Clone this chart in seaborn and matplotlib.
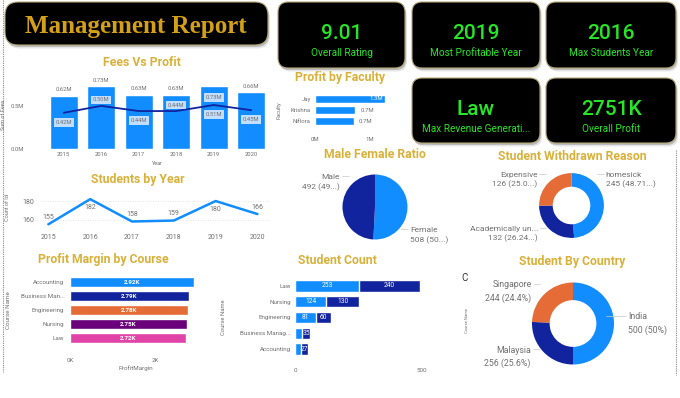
import matplotlib
matplotlib.use("Agg")
import matplotlib.pyplot as plt
from matplotlib.patches import FancyBboxPatch
import numpy as np
import pandas as pd
import seaborn as sns

W, H = 680, 398

years = ["2015", "2016", "2017", "2018", "2019", "2020"]
fees = [0.62, 0.73, 0.63, 0.63, 0.73, 0.66]
profit = [0.42, 0.50, 0.44, 0.44, 0.51, 0.45]
students = [155, 182, 158, 159, 180, 166]

faculties = ["Jay", "Krishna", "Niflora"]
faculty_profit = [1.27, 0.73, 0.70]
faculty_labels = ["1.3M", "0.7M", "0.7M"]

margin_courses = ["Accounting", "Business Man...", "Engineering", "Nursing", "Law"]
profit_margin = [2.92, 2.79, 2.78, 2.75, 2.72]

count_courses = ["Law", "Nursing", "Engineering", "Business Manag...", "Accounting"]
count_light = [253, 124, 81, 26, 24]
count_dark = [240, 130, 60, 35, 27]

genders = ["Female", "Male"]
gender_count = [508, 492]
gender_labels = ["508 (50...)", "492 (49...)"]

reasons = ["homesick", "Academically un...", "Expensive"]
reason_count = [245, 132, 126]
reason_labels = ["245 (48.71...)", "132 (26.24...)", "126 (25.0...)"]

countries = ["India", "Malaysia", "Singapore"]
country_count = [500, 256, 244]
country_labels = ["500 (50%)", "256 (25.6%)", "244 (24.4%)"]

kpi_values = ["9.01", "2019", "2016", "Law", "2751K"]
kpi_names = ["Overall Rating", "Most Profitable Year", "Max Students Year",
             "Max Revenue Generati...", "Overall Profit"]

LIGHT, DARK, ORANGE = "#118dff", "#12239e", "#e66c37"
PURPLE, PINK = "#6b007b", "#e044a7"
GOLD, TITLE_GOLD, GREEN, GRAY = "#d9b13a", "#d4a017", "#27e627", "#707070"

sns.set_theme(style="white")
plt.rcParams["font.family"] = ["Roboto", "DejaVu Sans"]

fig = plt.figure(figsize=(6.8, 3.98), dpi=100)
fig.patch.set_facecolor("white")
bg = fig.add_axes([0, 0, 1, 1])
bg.set_xlim(0, W)
bg.set_ylim(H, 0)
bg.axis("off")


def add_axes(x0, y0, x1, y1):
    ax = fig.add_axes([x0 / W, 1 - y1 / H, (x1 - x0) / W, (y1 - y0) / H])
    ax.set_facecolor("none")
    return ax


def clean(ax, size=4.5, pad=2):
    sns.despine(ax=ax, left=True, bottom=True)
    ax.tick_params(length=0, labelsize=size, colors=GRAY, pad=pad)


def card(x0, y0, x1, y1, r=10):
    style = f"round,pad=0,rounding_size={r}"
    for dx, dy, a in [(2, 3.5, 0.10), (1, 2, 0.18)]:
        bg.add_patch(FancyBboxPatch((x0 + dx, y0 + dy), x1 - x0, y1 - y0, boxstyle=style,
                                    fc="black", ec="none", alpha=a))
    bg.add_patch(FancyBboxPatch((x0, y0), x1 - x0, y1 - y0, boxstyle=style,
                                fc="black", ec="#b5a676", lw=0.8))


def title(x, y, text):
    bg.text(x, y + 4.5, text, ha="center", va="baseline", color=GOLD,
            fontsize=8.8, fontweight="bold")


# page borders
bg.plot([3, 3], [0, 372], ls=(0, (1, 1)), color="#888888", lw=0.8)
bg.plot([676, 676], [150, 375], ls=(0, (1, 1)), color="#888888", lw=0.8)

# header and KPI cards
card(5, 2, 268, 45, r=13)
bg.text(136, 33, "Management Report", ha="center", va="baseline", color=TITLE_GOLD,
        fontsize=18, fontweight="bold", family=["Liberation Serif", "DejaVu Serif"])

kpi_boxes = [(278, 2, 405, 68), (412, 2, 540, 68), (546, 2, 676, 68),
             (412, 78, 540, 143), (546, 78, 676, 143)]
for (x0, y0, x1, y1), val, name in zip(kpi_boxes, kpi_values, kpi_names):
    card(x0, y0, x1, y1)
    cx, cy = (x0 + x1) / 2, (y0 + y1) / 2
    bg.text(cx, cy + 4.3, val, ha="center", va="baseline", color=GREEN, fontsize=15,
            fontweight="medium")
    bg.text(cx, cy + 21.5, name, ha="center", va="baseline", color=GREEN, fontsize=7.2)

# Fees Vs Profit
title(142, 62, "Fees Vs Profit")
ax = add_axes(45, 80, 270, 149)
fees_df = pd.DataFrame({"Year": years, "Fees": fees, "Profit": profit})
sns.barplot(data=fees_df, x="Year", y="Fees", color=LIGHT, saturation=1, width=0.75, ax=ax)
sns.lineplot(x=np.arange(len(years)), y=profit, color=DARK, lw=1.3, ax=ax)
ax.set_ylim(0, 0.8)
ax.set_xlim(-0.5, len(years) - 0.5)
ax.set_yticks([0, 0.5], ["0.0M", "0.5M"])
clean(ax, 4.2)
ax.tick_params(axis="y", pad=15)
ax.set_xlabel("Year", fontsize=4, color=GRAY, labelpad=3)
ax.set_ylabel("Sum of Fees", fontsize=4, color=GRAY)
ax.yaxis.set_label_coords(-0.175, 0.5)
box = dict(boxstyle="square,pad=0.3", fc="#d6e8fc", ec="none", alpha=0.9)
for i, (f, p) in enumerate(zip(fees, profit)):
    if i == 4:
        ax.text(i, f - 0.13, f"{f:.2f}M", ha="center", va="center", fontsize=4.2,
                color=GRAY, bbox=box)
    else:
        ax.text(i, f + 0.04, f"{f:.2f}M", ha="center", va="bottom", fontsize=4.2, color=GRAY)
    off = 0.07 if i in (1, 3) else -0.11
    ax.text(i, p + off, f"{p:.2f}M", ha="center", va="center", fontsize=4.2,
            color=GRAY, bbox=box)

# Students by Year
title(138, 178, "Students by Year")
ax = add_axes(40, 188, 270, 228)
sns.lineplot(x=np.arange(len(years)), y=students, color=LIGHT, lw=1.8, ax=ax)
ax.set_xlim(-0.2, 5.3)
ax.set_ylim(151, 194)
ax.set_xticks(np.arange(len(years)), years)
ax.set_yticks([160, 180])
ax.grid(axis="y", ls=(0, (1, 2)), color="#dddddd", lw=0.6)
clean(ax, 5, pad=4)
ax.set_ylabel("Count of Id", fontsize=4, color=GRAY)
ax.yaxis.set_label_coords(-0.13, 0.5)
for i, s in enumerate(students):
    up = s < 170
    ax.annotate(str(s), (i, s), xytext=(0, 5 if up else -6), textcoords="offset points",
                ha="center", va="center", fontsize=5, color=GRAY)

# Profit Margin by Course
title(103, 258, "Profit Margin by Course")
ax = add_axes(70, 275, 202, 345)
pm_df = pd.DataFrame({"Course": margin_courses, "Margin": profit_margin})
sns.barplot(data=pm_df, y="Course", x="Margin", hue="Course",
            palette=[LIGHT, DARK, ORANGE, PURPLE, PINK], saturation=1, width=0.72,
            legend=False, ax=ax)
ax.set_xlim(0, 3.1)
ax.set_xticks([0, 2], ["0K", "2K"])
clean(ax, 4.5, pad=4)
ax.tick_params(axis="x", pad=9)
for c in ax.containers:
    ax.bar_label(c, fmt="{:.2f}K", label_type="center", color="white", fontsize=4.5,
                 fontweight="bold")
ax.set_xlabel("ProfitMargin", fontsize=4.5, color=GRAY, labelpad=2)
ax.set_ylabel("Course Name", fontsize=4.5, color=GRAY)
ax.yaxis.set_label_coords(-0.45, 0.5)

# Profit by Faculty
title(340, 76, "Profit by Faculty")
ax = add_axes(315, 93, 392, 127)
sns.barplot(y=faculties, x=faculty_profit, color=LIGHT, saturation=1, width=0.68, ax=ax)
ax.set_xlim(0, 1.4)
ax.set_xticks([0, 1], ["0M", "1M"])
clean(ax, 4.3, pad=3)
ax.tick_params(axis="x", pad=7)
for i, (v, lab) in enumerate(zip(faculty_profit, faculty_labels)):
    if v > 1:
        ax.text(v - 0.04, i, lab, ha="right", va="center", fontsize=4.3, color="white")
    else:
        ax.text(v + 0.1, i, lab, ha="left", va="center", fontsize=4.3, color=GRAY)
ax.set_ylabel("Faculty", fontsize=4, color=GRAY)
ax.yaxis.set_label_coords(-0.43, 0.5)

# Student Count
title(337, 260, "Student Count")
ax = add_axes(295, 278, 427, 357)
total = [a + b for a, b in zip(count_light, count_dark)]
sns.barplot(y=count_courses, x=total, color=DARK, saturation=1, width=0.73, ax=ax)
sns.barplot(y=count_courses, x=count_light, color=LIGHT, saturation=1, width=0.73, ax=ax)
ax.set_xlim(0, 520)
ax.set_xticks([0, 500])
clean(ax, 4.5, pad=3)
ax.tick_params(axis="x", pad=8)
for i, (a, b) in enumerate(zip(count_light, count_dark)):
    if a > 50:
        ax.text(a / 2, i, str(a), ha="center", va="center", fontsize=4.8, color="white")
    ax.text(a + b / 2, i, str(b), ha="center", va="center", fontsize=4.8, color="white")
ax.set_ylabel("Course Name", fontsize=4.2, color=GRAY)
ax.yaxis.set_label_coords(-0.52, 0.5)


# pies and donuts
def pie_axes(cx, cy, r):
    return add_axes(cx - 2 * r, cy - 2 * r, cx + 2 * r, cy + 2 * r)


def pie_labels(ax, names, labels, spots, size=6):
    for name, lab, (x, y) in zip(names, labels, spots):
        ha = "left" if x > 0 else "right"
        ax.text(x, y, f"{name}\n{lab}", ha=ha, va="center", fontsize=size, color=GRAY,
                linespacing=1.5)
        sgn = 1 if x > 0 else -1
        ax.plot([sgn * 0.8, x - sgn * 0.05], [y + 0.19, y + 0.19], color="#c8c8c8", lw=0.5)


def finish(ax):
    ax.set_xlim(-2, 2)
    ax.set_ylim(-2, 2)
    ax.axis("off")


title(375, 154, "Male Female Ratio")
ax = pie_axes(375, 207, 32.5)
ax.pie(gender_count, colors=[LIGHT, DARK], startangle=90, counterclock=False,
       wedgeprops=dict(linewidth=0))
finish(ax)
pie_labels(ax, genders, gender_labels, [(1.08, -0.87), (-1.08, 0.76)])

title(572, 155, "Student Withdrawn Reason")
ax = pie_axes(571.5, 205.5, 32.4)
ax.pie(reason_count, colors=[LIGHT, DARK, ORANGE], startangle=90, counterclock=False,
       wedgeprops=dict(width=0.42, linewidth=0))
finish(ax)
pie_labels(ax, reasons, reason_labels, [(1.06, 0.79), (-1.03, -0.88), (-1.05, 0.79)])

title(572, 260, "Student By Country")
ax = pie_axes(573, 323.5, 41)
ax.pie(country_count, colors=[LIGHT, DARK, ORANGE], startangle=90, counterclock=False,
       wedgeprops=dict(width=0.43, linewidth=0))
finish(ax)
pie_labels(ax, countries, country_labels, [(1.35, 0.0), (-1.03, -0.82), (-1.01, 0.78)],
           size=6.3)
bg.text(465, 281, "C", ha="center", va="baseline", fontsize=7, color="#333333")
bg.text(467, 320, "Course Name", ha="center", va="center", fontsize=3, color=GRAY,
        rotation=90)

fig.savefig("out.png", dpi=100)
